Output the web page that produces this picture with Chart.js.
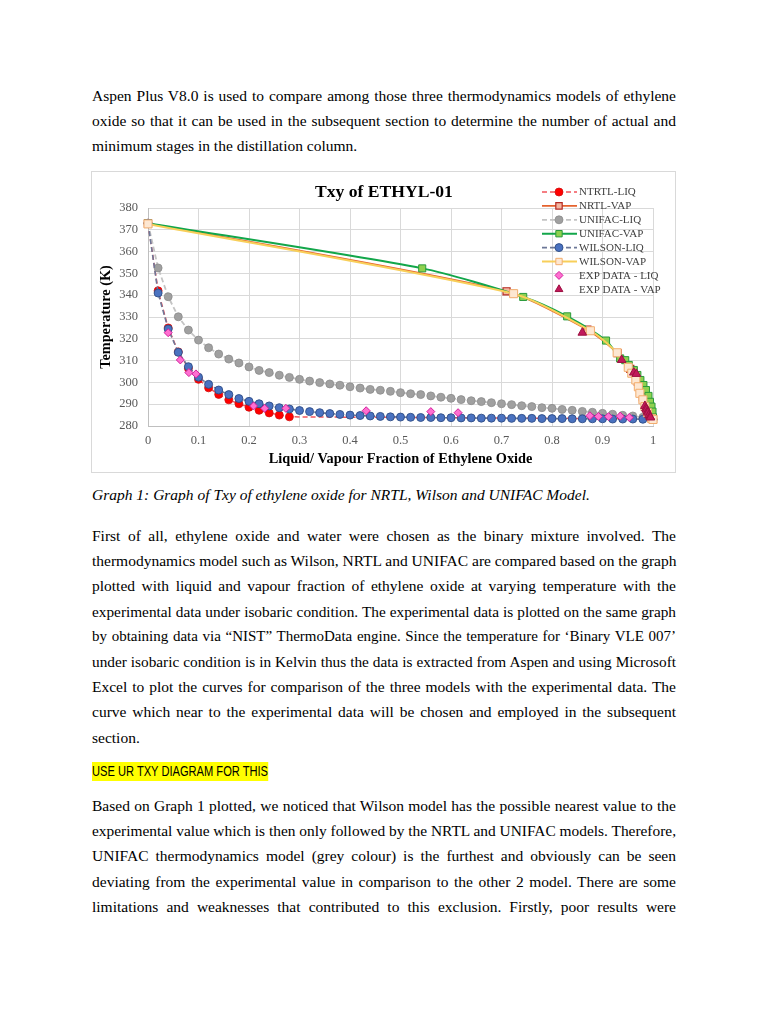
<!DOCTYPE html>
<html>
<head>
<meta charset="utf-8">
<script src="https://cdn.jsdelivr.net/npm/chart.js@4.4.0/dist/chart.umd.min.js"></script>
<style>
body{margin:0;background:#fff;}
.page{position:relative;width:768px;height:1024px;overflow:hidden;font-family:"Liberation Serif","Times New Roman",serif;font-size:15.5px;color:#000;}
.p{position:absolute;left:92px;width:584px;line-height:25.2px;}
.p div{white-space:nowrap;text-align:justify;text-align-last:justify;overflow:visible;}
.p div.e{text-align-last:left;}
.cap{font-style:italic;}
.cam{font-size:15px;}
#use{position:absolute;left:92px;top:762px;height:19px;line-height:19px;background:#ffff00;font-family:"Liberation Sans",Arial,sans-serif;font-size:14px;white-space:nowrap;transform-origin:left center;}
#box{position:absolute;left:91px;top:171px;width:583px;height:300px;border:1px solid #d9d9d9;}
</style>
</head>
<body>
<div class="page">
  <div class="p" style="top:83px">
    <div>Aspen Plus V8.0 is used to compare among those three thermodynamics models of ethylene</div>
    <div>oxide so that it can be used in the subsequent section to determine the number of actual and</div>
    <div class="e">minimum stages in the distillation column.</div>
  </div>

  <div id="box"><canvas id="plot" width="583" height="300"></canvas></div>

  <div class="p cap" style="top:482px">
    <div class="e">Graph 1: Graph of Txy of ethylene oxide for NRTL, Wilson and UNIFAC Model.</div>
  </div>

  <div class="p" style="top:523px">
    <div>First of all, ethylene oxide and water were chosen as the binary mixture involved. The</div>
    <div>thermodynamics model such as Wilson, NRTL and UNIFAC are compared based on the graph</div>
    <div>plotted with liquid and vapour fraction of ethylene oxide at varying temperature with the</div>
    <div>experimental data under isobaric condition. The experimental data is plotted on the same graph</div>
    <div class="cam">by obtaining data via “NIST” ThermoData engine. Since the temperature for ‘Binary VLE 007’</div>
    <div>under isobaric condition is in Kelvin thus the data is extracted from Aspen and using Microsoft</div>
    <div>Excel to plot the curves for comparison of the three models with the experimental data. The</div>
    <div>curve which near to the experimental data will be chosen and employed in the subsequent</div>
    <div class="e">section.</div>
  </div>

  <div id="use">USE UR TXY DIAGRAM FOR THIS</div>

  <div class="p" style="top:793px">
    <div>Based on Graph 1 plotted, we noticed that Wilson model has the possible nearest value to the</div>
    <div>experimental value which is then only followed by the NRTL and UNIFAC models. Therefore,</div>
    <div>UNIFAC thermodynamics model (grey colour) is the furthest and obviously can be seen</div>
    <div>deviating from the experimental value in comparison to the other 2 model. There are some</div>
    <div>limitations and weaknesses that contributed to this exclusion. Firstly, poor results were</div>
  </div>
</div>

<script>
// liquid mole fraction grid used by the model curves
const liqX = [0, 0.02, 0.04, 0.06, 0.08, 0.1, 0.12, 0.14, 0.16, 0.18, 0.2, 0.22, 0.24, 0.26, 0.28,
  0.3, 0.32, 0.34, 0.36, 0.38, 0.4, 0.42, 0.44, 0.46, 0.48, 0.5, 0.52, 0.54, 0.56, 0.58, 0.6,
  0.62, 0.64, 0.66, 0.68, 0.7, 0.72, 0.74, 0.76, 0.78, 0.8, 0.82, 0.84, 0.86, 0.88, 0.9,
  0.92, 0.94, 0.96, 0.98, 1];

// NRTL liquid (markers stop at 0.28, line runs on to x=1)
const nrtlLiqX = [0, 0.02, 0.04, 0.06, 0.08, 0.1, 0.12, 0.14, 0.16, 0.18, 0.2, 0.22, 0.24, 0.26, 0.28, 1];
const nrtlLiqT = [373, 342, 325, 314, 306.5, 301.4, 297.5, 294.5, 292, 290.2, 288.6, 287.2, 286, 285, 284.2, 283.3];

const nrtlVapX = [0, 0.71, 0.87, 0.93, 0.955, 0.97, 0.98, 0.99, 1];
const nrtlVapT = [373, 341.8, 324.2, 313.4, 306.2, 300.2, 293.2, 286.6, 283.2];

const unifacLiqT = [373, 352.5, 339.3, 330.1, 324, 319.4, 315.9, 313, 310.7, 308.9, 307.1, 305.5,
  304.5, 303.3, 302.3, 301.4, 300.6, 299.9, 299.3, 298.7, 298, 297.4, 296.8, 296.4, 295.9,
  295.3, 294.8, 294.4, 293.8, 293.2, 292.7, 292.1, 291.6, 291.2, 290.7, 290.2, 289.8, 289.3,
  288.9, 288.4, 288.1, 287.6, 287.2, 286.7, 286.3, 285.8, 285.4, 284.9, 284.6, 284.0, 283.0];

const unifacVapX = [0, 0.543, 0.743, 0.83, 0.907, 0.935, 0.945, 0.952, 0.962, 0.969, 0.975,
  0.981, 0.986, 0.991, 0.994, 0.997, 0.999, 1];
const unifacVapT = [373, 352.3, 339.2, 330.3, 319.2, 311, 310.2, 308, 305.7, 303.4, 301.1,
  298.8, 296.5, 293.8, 291.1, 288.9, 286.6, 284.0];

const wilsonLiqT = [373, 341, 324.5, 313.8, 307.2, 302.4, 299.1, 296.5, 294.4, 292.6, 291.3, 290.2,
  289.2, 288.4, 287.8, 287.1, 286.6, 286.1, 285.7, 285.3, 285.0, 284.8, 284.6, 284.4, 284.2,
  284.1, 284.0, 283.9, 283.9, 283.8, 283.8, 283.7, 283.7, 283.6, 283.6, 283.6, 283.5, 283.5,
  283.5, 283.4, 283.4, 283.4, 283.3, 283.3, 283.3, 283.3, 283.2, 283.2, 283.2, 283.1, 283.0];

const wilsonVapX = [0, 0.724, 0.876, 0.929, 0.951, 0.958, 0.966, 0.971, 0.974, 0.98, 0.984, 0.989, 0.997, 1];
const wilsonVapT = [372.7, 340.7, 323.7, 313.6, 306.9, 304.2, 301.1, 298, 295, 292, 288.9, 286.1, 283.5, 283];

const expLiqX = [0.04, 0.064, 0.081, 0.095, 0.209, 0.231, 0.273, 0.432, 0.56, 0.614, 0.875, 0.892, 0.912, 0.935, 0.953];
const expLiqT = [322.8, 310.3, 304.5, 303.9, 289.2, 288.1, 288.1, 287, 286.6, 286.1, 284.7, 284.4, 284.3, 284.5, 283.9];

const expVapX = [0.86, 0.938, 0.962, 0.967, 0.984, 0.986, 0.987, 0.989, 0.99, 0.992, 0.994, 0.995];
const expVapT = [322.8, 310.3, 304.5, 303.9, 289.2, 288.1, 287.5, 286.6, 286.1, 285.0, 284.3, 283.9];

const xTicks = {min: 0, max: 1, step: 0.1};
const yTicks = {min: 280, max: 380, step: 10};

function pts(xs, ys) {
  return xs.map((x, i) => ({x: x, y: ys[i]}));
}

const serif = "'Liberation Serif', 'Times New Roman', serif";

const datasets = [
  {
    label: 'NTRTL-LIQ', data: pts(nrtlLiqX, nrtlLiqT), showLine: true,
    borderColor: '#f2545b', borderWidth: 1.5, borderDash: [5, 3],
    pointStyle: 'circle', pointRadius: nrtlLiqX.map((x, i) => i === nrtlLiqX.length - 1 ? 0 : 4),
    pointBackgroundColor: '#ff0000', pointBorderColor: '#d01010', pointBorderWidth: 0.8
  },
  {
    label: 'NRTL-VAP', data: pts(nrtlVapX, nrtlVapT), showLine: true, tension: 0.25,
    borderColor: '#e5622d', borderWidth: 1.8,
    pointStyle: 'rect', pointRadius: 5,
    pointBackgroundColor: '#f4b6a0', pointBorderColor: '#b52a22', pointBorderWidth: 1.2
  },
  {
    label: 'UNIFAC-LIQ', data: pts(liqX, unifacLiqT), showLine: true,
    borderColor: '#c4c4c4', borderWidth: 1.8, borderDash: [5, 3],
    pointStyle: 'circle', pointRadius: 4,
    pointBackgroundColor: '#a0a0a0', pointBorderColor: '#8c8c8c', pointBorderWidth: 0.8
  },
  {
    label: 'UNIFAC-VAP', data: pts(unifacVapX, unifacVapT), showLine: true, tension: 0.25,
    borderColor: '#12a64a', borderWidth: 2,
    pointStyle: 'rect', pointRadius: 5,
    pointBackgroundColor: '#8fd14f', pointBorderColor: '#2a9a3c', pointBorderWidth: 1
  },
  {
    label: 'WILSON-LIQ', data: pts(liqX, wilsonLiqT), showLine: true,
    borderColor: '#6d7898', borderWidth: 1.6, borderDash: [5, 3],
    pointStyle: 'circle', pointRadius: 4,
    pointBackgroundColor: '#4a72c0', pointBorderColor: '#2f4d86', pointBorderWidth: 0.9
  },
  {
    label: 'WILSON-VAP', data: pts(wilsonVapX, wilsonVapT), showLine: true, tension: 0.25,
    borderColor: '#f8cf5a', borderWidth: 2,
    pointStyle: 'rect', pointRadius: 5.7,
    pointBackgroundColor: '#fde7d2', pointBorderColor: '#f2ad6e', pointBorderWidth: 1
  },
  {
    label: 'EXP DATA - LIQ', data: pts(expLiqX, expLiqT), showLine: false,
    pointStyle: 'rectRot', pointRadius: 4,
    pointBackgroundColor: '#ff6fd0', pointBorderColor: '#d0209c', pointBorderWidth: 1
  },
  {
    label: 'EXP DATA - VAP', data: pts(expVapX, expVapT), showLine: false,
    pointStyle: 'triangle', pointRadius: 5,
    pointBackgroundColor: '#c2185b', pointBorderColor: '#9c1040', pointBorderWidth: 1
  }
];
// Excel draws later series on top
datasets.forEach((d, i) => { d.order = datasets.length - i; d.clip = 8; });

// title and legend sit over the plot like in the Excel chart
const decor = {
  id: 'decor',
  afterDraw(chart) {
    const ctx = chart.ctx;
    ctx.save();
    ctx.fillStyle = '#000';
    ctx.font = 'bold 17.6px ' + serif;
    ctx.textAlign = 'center';
    ctx.textBaseline = 'middle';
    ctx.fillText('Txy of ETHYL-01', 292, 20);

    const x0 = 450, x1 = 485, mx = 467, tx = 487;
    chart.data.datasets.forEach((ds, i) => {
      const y = 20 + i * 13.9;
      if (ds.showLine) {
        ctx.save();
        ctx.strokeStyle = ds.borderColor;
        ctx.lineWidth = ds.borderWidth;
        ctx.setLineDash(ds.borderDash || []);
        ctx.beginPath();
        ctx.moveTo(x0, y);
        ctx.lineTo(x1, y);
        ctx.stroke();
        ctx.restore();
      }
      ctx.save();
      ctx.fillStyle = ds.pointBackgroundColor;
      ctx.strokeStyle = ds.pointBorderColor;
      ctx.lineWidth = ds.pointBorderWidth;
      const r = Array.isArray(ds.pointRadius) ? ds.pointRadius[0] : ds.pointRadius;
      Chart.helpers.drawPoint(ctx, {pointStyle: ds.pointStyle, radius: Math.min(r, 4.5), rotation: 0, borderWidth: ds.pointBorderWidth}, mx, y);
      ctx.restore();
      ctx.fillStyle = '#404040';
      ctx.font = '11px ' + serif;
      ctx.textAlign = 'left';
      ctx.textBaseline = 'middle';
      ctx.fillText(ds.label, tx, y + 0.5);
    });
    ctx.restore();
  }
};

const config = {
  type: 'scatter',
  data: {datasets: datasets},
  options: {
    responsive: false,
    animation: false,
    events: [],
    layout: {padding: {top: 36, right: 22, left: 0, bottom: 0}},
    plugins: {legend: {display: false}, title: {display: false}, tooltip: {enabled: false}},
    scales: {
      x: {
        type: 'linear', min: xTicks.min, max: xTicks.max,
        afterFit: s => { s.height = 46; },
        grid: {color: '#d9d9d9', drawTicks: false},
        border: {color: '#bfbfbf'},
        ticks: {stepSize: xTicks.step, padding: 7, color: '#595959', font: {family: serif, size: 12.5},
          callback: v => String(+v.toFixed(1))},
        title: {display: true, text: 'Liquid/ Vapour Fraction of Ethylene Oxide', color: '#000',
          font: {family: serif, size: 14.3, weight: 'bold'}, padding: {top: 0, bottom: 4}}
      },
      y: {
        type: 'linear', min: yTicks.min, max: yTicks.max,
        afterFit: s => { s.width = 56; },
        grid: {color: '#d9d9d9', drawTicks: false},
        border: {color: '#bfbfbf'},
        ticks: {stepSize: yTicks.step, padding: 10, color: '#595959', font: {family: serif, size: 12.5}},
        title: {display: true, text: 'Temperature (K)', color: '#000',
          font: {family: serif, size: 14.3, weight: 'bold'}, padding: {top: 6, bottom: 0}}
      }
    }
  },
  plugins: [decor]
};

let ctx = document.getElementById('plot').getContext('2d');
let chart = new Chart(ctx, config);

// keep every text line inside the column like the Word page
document.querySelectorAll('.p div').forEach(el => {
  let fs = parseFloat(getComputedStyle(el).fontSize);
  let n = 0;
  while (el.scrollWidth > el.clientWidth + 0.5 && n < 20) {
    fs -= 0.1; el.style.fontSize = fs + 'px'; n++;
  }
});
const use = document.getElementById('use');
use.style.transform = 'scaleX(' + (176 / use.getBoundingClientRect().width) + ')';
</script>
</body>
</html>
